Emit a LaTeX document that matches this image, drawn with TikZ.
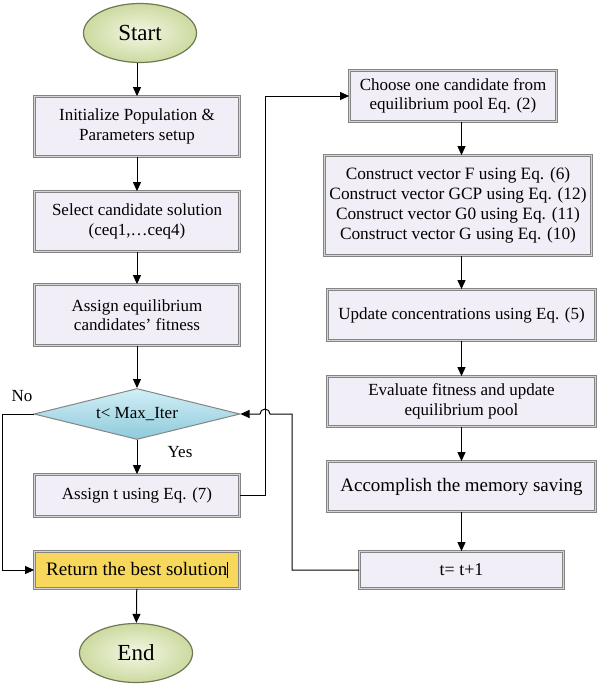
\documentclass[tikz,border=0pt]{standalone}
\usepackage{fontspec}
\setmainfont{Liberation Serif}
\usetikzlibrary{shapes.geometric,arrows.meta,calc}
\definecolor{boxfill}{HTML}{F1EEF8}
\definecolor{boxedge}{HTML}{858585}
\definecolor{ellin}{HTML}{F3F7E4}
\definecolor{ellout}{HTML}{CCDAA0}
\definecolor{elledge}{HTML}{6E7A55}
\definecolor{diatop}{HTML}{D2EFF6}
\definecolor{diabot}{HTML}{8ECADB}
\definecolor{retfill}{HTML}{F7D75C}
\begin{document}
\begin{tikzpicture}[x=1pt,y=-1pt,
  font=\fontsize{17}{19.5}\selectfont,
  bigtext/.style={font=\fontsize{19}{20}\selectfont},
  procbox/.style={rectangle, draw=boxedge, line width=0.8pt, double=boxedge!35, double distance=1.3pt, fill=boxfill, align=center, inner sep=2pt},
  term/.style={ellipse, draw=elledge, line width=1.2pt, inner color=ellin, outer color=ellout, minimum width=113pt, minimum height=59pt, inner sep=0pt, font=\fontsize{23}{26}\selectfont},
  decision/.style={diamond, draw=boxedge, line width=1pt, top color=diatop, bottom color=diabot, minimum width=206pt, minimum height=51pt, inner sep=0pt, aspect=4},
  arr/.style={-{Triangle[length=9pt,width=8pt]}, line width=1pt, black},
  lbl/.style={inner sep=0pt}
]
\useasboundingbox (0,0) rectangle (603,685);
% left column
\node[term] (start) at (140,33) {Start};
\node[procbox, minimum width=205pt, minimum height=60pt] (init) at (137,126.5) {Initialize Population \&\\Parameters setup};
\node[procbox, minimum width=205pt, minimum height=60pt] (sel) at (137,221.5) {Select candidate solution\\(ceq1,…ceq4)};
\node[procbox, minimum width=205pt, minimum height=61pt] (fit) at (137,315) {Assign equilibrium\\candidates’ fitness};
\node[decision] (dec) at (137,414) {t< Max\_Iter};
\node[procbox, minimum width=205pt, minimum height=42pt] (asgt) at (137,495.5) {Assign t using Eq. (7)};
\node[procbox, bigtext, fill=retfill, minimum width=205pt, minimum height=37pt] (ret) at (137,570) {Return the best solution\rule[-3pt]{0.5pt}{16pt}};
\node[term] (end) at (136,653) {End};
\node[lbl] (no) at (22,396) {No};
\node[lbl] (yes) at (180,452) {Yes};
% right column
\node[procbox, minimum width=207pt, minimum height=51pt] (choose) at (453,96) {Choose one candidate from\\equilibrium pool Eq. (2)};
\node[procbox, font=\fontsize{17.3}{20}\selectfont, minimum width=267pt, minimum height=100pt] (cons) at (458,205.5) {Construct vector F using Eq. (6)\\Construct vector GCP using Eq. (12)\\Construct vector G0 using Eq. (11)\\Construct vector G using Eq. (10)};
\node[procbox, minimum width=268pt, minimum height=51pt] (upd) at (461.5,315) {Update concentrations using Eq. (5)};
\node[procbox, minimum width=268pt, minimum height=50pt] (eval) at (461.5,401.5) {Evaluate fitness and update\\equilibrium pool};
\node[procbox, bigtext, minimum width=268pt, minimum height=50pt] (acc) at (461.5,486.5) {Accomplish the memory saving};
\node[procbox, font=\fontsize{18}{20}\selectfont, minimum width=204pt, minimum height=37pt] (tinc) at (461.5,570) {t= t+1};
% helper coordinates
\coordinate (nox) at (2,0);
\coordinate (yesx) at (265,0);
\coordinate (backx) at (292,0);
\coordinate (hopr) at (270,414);
% connectors
\draw[arr] (start.south -| init) -- (init.north);
\draw[arr] (init) -- (sel);
\draw[arr] (sel) -- (fit);
\draw[arr] (fit) -- (dec);
\draw[arr] (dec) -- (asgt);
\draw[arr] (ret) -- (end);
\draw[arr] (dec.west) -- (dec.west -| nox) |- (ret.west);
\draw[arr] (asgt.east) -- (asgt.east -| yesx) |- (choose.west);
\draw[arr] (choose.south -| upd) -- (cons.north -| upd);
\draw[arr] (cons.south -| upd) -- (upd.north);
\draw[arr] (upd) -- (eval);
\draw[arr] (eval) -- (acc);
\draw[arr] (acc) -- (tinc);
\draw[arr] (tinc.west) -- (tinc.west -| backx) -- (dec.east -| backx) -- (hopr) arc[start angle=0, end angle=180, radius=5pt] -- (dec.east);
\end{tikzpicture}
\end{document}
